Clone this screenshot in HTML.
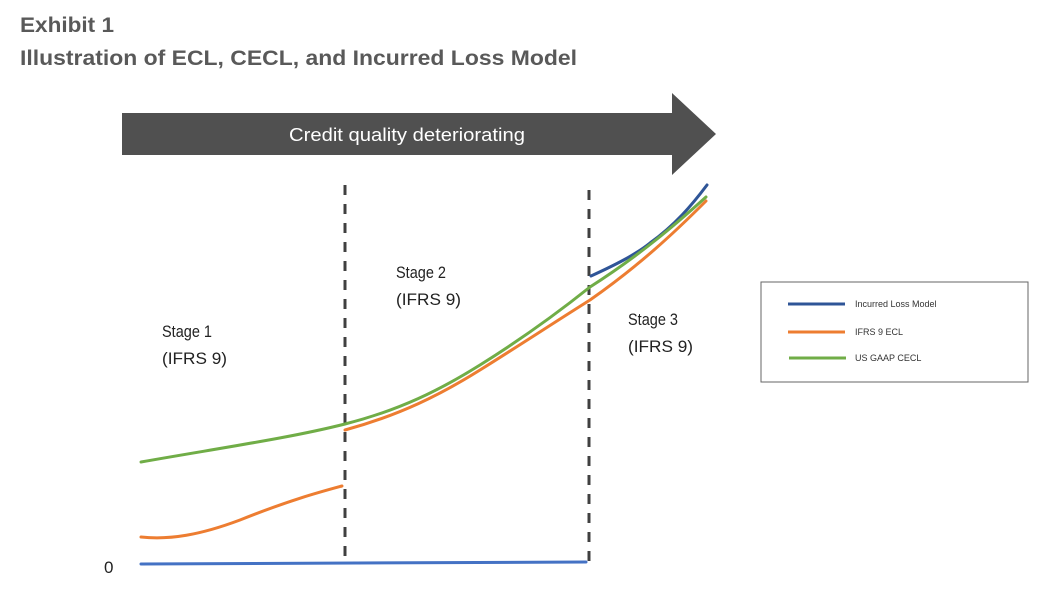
<!DOCTYPE html>
<html><head><style>
body{margin:0;width:1056px;height:589px;background:#fff;overflow:hidden;font-family:"Liberation Sans",sans-serif}
</style></head><body>
<svg width="1056" height="589" xmlns="http://www.w3.org/2000/svg" font-family="Liberation Sans, sans-serif">
<text x="20" y="32" font-size="21" font-weight="bold" fill="#595959" textLength="94" lengthAdjust="spacingAndGlyphs">Exhibit 1</text>
<text x="20" y="65" font-size="21" font-weight="bold" fill="#595959" textLength="557" lengthAdjust="spacingAndGlyphs">Illustration of ECL, CECL, and Incurred Loss Model</text>
<polygon points="122,113 672,113 672,93 716,134 672,175 672,155 122,155" fill="#505050"/>
<text x="289" y="141" font-size="18" fill="#fff" textLength="236" lengthAdjust="spacingAndGlyphs">Credit quality deteriorating</text>
<line x1="345" y1="185" x2="345" y2="565" stroke="#404040" stroke-width="3" stroke-dasharray="10,9"/>
<line x1="589" y1="190" x2="589" y2="565" stroke="#404040" stroke-width="3" stroke-dasharray="10,9"/>
<g font-size="17" fill="#222">
<text x="162" y="337" textLength="50" lengthAdjust="spacingAndGlyphs">Stage 1</text><text x="162" y="364" textLength="65" lengthAdjust="spacingAndGlyphs">(IFRS 9)</text>
<text x="396" y="278" textLength="50" lengthAdjust="spacingAndGlyphs">Stage 2</text><text x="396" y="305" textLength="65" lengthAdjust="spacingAndGlyphs">(IFRS 9)</text>
<text x="628" y="325" textLength="50" lengthAdjust="spacingAndGlyphs">Stage 3</text><text x="628" y="352" textLength="65" lengthAdjust="spacingAndGlyphs">(IFRS 9)</text>
<text x="104" y="573">0</text>
</g>
<g fill="none" stroke-width="3" stroke-linecap="round">
<path d="M141,564 L586,562" stroke="#4472c4"/>
<path d="M141,537 C170,540 200,535 240,520 C290,500 320,492 342,486" stroke="#ed7d31"/>
<path d="M345,430 C400,415 440,395 480,370 C520,345 555,322 590,300 C640,265 675,232 706,201" stroke="#ed7d31"/>
<path d="M591,276 C615,265 635,255 650,243 C675,225 692,205 707,185" stroke="#2f5597"/>
<path d="M141,462 C220,448 290,438 345,424 C400,410 440,390 480,365 C520,340 555,315 590,287 C640,255 675,225 706,197" stroke="#70ad47"/>
</g>
<rect x="761" y="282" width="267" height="100" fill="none" stroke="#666" stroke-width="1"/>
<line x1="788" y1="304" x2="845" y2="304" stroke="#2f5597" stroke-width="3"/>
<line x1="788" y1="332" x2="845" y2="332" stroke="#ed7d31" stroke-width="3"/>
<line x1="789" y1="358" x2="846" y2="358" stroke="#70ad47" stroke-width="3"/>
<g font-size="9" fill="#333">
<text x="855" y="307">Incurred Loss Model</text>
<text x="855" y="335">IFRS 9 ECL</text>
<text x="855" y="361">US GAAP CECL</text>
</g>
</svg>
</body></html>
